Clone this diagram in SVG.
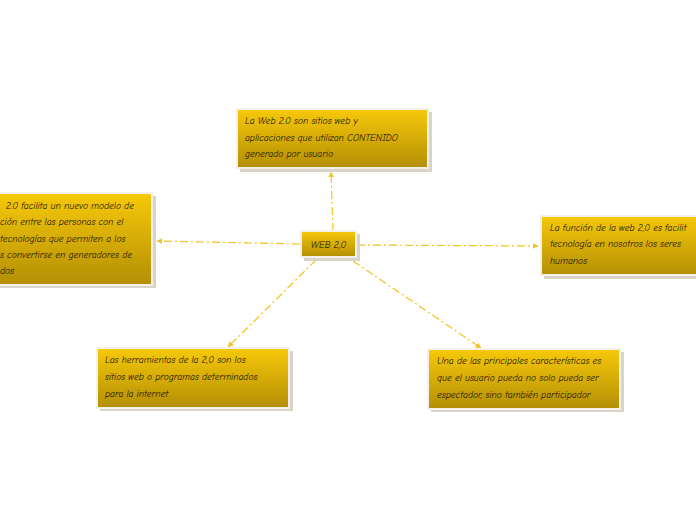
<svg xmlns="http://www.w3.org/2000/svg" width="696" height="520" viewBox="0 0 696 520">
<defs>
<linearGradient id="g" x1="0" y1="0" x2="0" y2="1"><stop offset="0" stop-color="#f7c90a"/><stop offset="1" stop-color="#b38f05"/></linearGradient>
<marker id="a" viewBox="0 0 10 10" refX="9" refY="5" markerWidth="5" markerHeight="5" orient="auto"><path d="M0,0L10,5L0,10z" fill="#f2c22a"/></marker>
</defs>
<style>
.sh{fill:#d9d4c8}
.bx{fill:url(#g);stroke:#f4f0ea;stroke-width:2}
.t{font-family:"Comic Neue","Open Sans",sans-serif;font-style:italic;font-size:9.5px;fill:#1a1400}
.c{stroke:#f3c21c;stroke-width:1.2;fill:none;stroke-dasharray:8,3,2,3;marker-end:url(#a)}
</style>
<rect width="696" height="520" fill="#fff"/>
<g id="connectors">
<line class="c" x1="333" y1="231" x2="331" y2="172"/>
<line class="c" x1="300" y1="244" x2="157" y2="241"/>
<line class="c" x1="357" y1="245" x2="538" y2="246"/>
<line class="c" x1="316" y1="260" x2="228" y2="347"/>
<line class="c" x1="353" y1="261" x2="481" y2="348"/>
</g>
<g id="center"><rect class="sh" x="304" y="234" width="56" height="27"/><rect class="bx" x="301" y="231" width="55" height="26"/><text class="t" x="328.5" y="248" text-anchor="middle">WEB 2,0</text></g>
<g id="top"><rect class="sh" x="240" y="112" width="192" height="60"/><rect class="bx" x="237" y="109" width="191" height="59"/>
<text class="t" x="245" y="124">La Web 2.0 son sitios web y</text><text class="t" x="245" y="141">aplicaciones que utilizan CONTENIDO</text><text class="t" x="245" y="157">generado por usuario</text></g>
<g id="left"><rect class="sh" x="-10" y="196" width="166" height="92"/><rect class="bx" x="-12" y="193" width="164" height="92"/>
<text class="t" x="6" y="209">  2.0 facilita un nuevo modelo de</text><text class="t" x="0" y="225">ción entre las personas con el</text><text class="t" x="0" y="242">tecnologías que permiten a los</text><text class="t" x="0" y="258">s convertirse en generadores de</text><text class="t" x="0" y="274">dos</text></g>
<g id="right"><rect class="sh" x="544" y="219" width="160" height="60"/><rect class="bx" x="541" y="216" width="160" height="59"/>
<text class="t" x="550" y="231">La función de la web 2,0 es facilit</text><text class="t" x="550" y="247">tecnología en nosotros los seres</text><text class="t" x="550" y="264">humanos</text></g>
<g id="bottomleft"><rect class="sh" x="100" y="351" width="193" height="60"/><rect class="bx" x="97" y="348" width="192" height="60"/>
<text class="t" x="105" y="363">Las herramientas de la 2,0 son los</text><text class="t" x="105" y="380">sitios web o programas determinados</text><text class="t" x="105" y="397">para la internet</text></g>
<g id="bottomright"><rect class="sh" x="431" y="352" width="193" height="60"/><rect class="bx" x="428" y="349" width="192" height="60"/>
<text class="t" x="437" y="364">Una de las principales características es</text><text class="t" x="437" y="381">que el usuario pueda no solo pueda ser</text><text class="t" x="437" y="398">espectador, sino también participador</text></g>
</svg>
